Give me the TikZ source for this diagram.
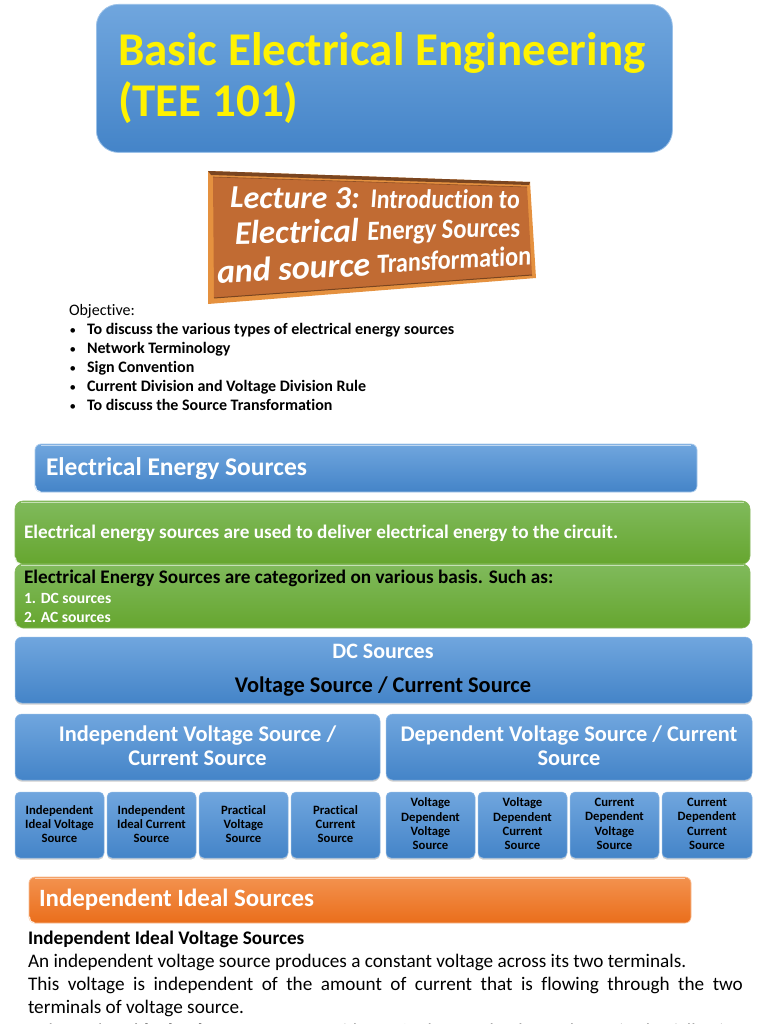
\documentclass[tikz,border=0pt]{standalone}
\usepackage{fontspec}
\setmainfont{Carlito}[Ligatures={NoCommon}]
\newfontfamily\slightfont{Carlito}[Ligatures={NoCommon},FakeSlant=0.07,FakeStretch=0.88,BoldFeatures={FakeSlant=0.07,FakeStretch=0.88}]
\tikzset{
  x=1pt,y=-1pt,
  card/.style={rounded corners=#1,inner sep=0pt,outer sep=0pt,anchor=north west,text=white,align=center,
    preaction={fill=black!55,opacity=.35,transform canvas={yshift=-1.6pt}}},
  card/.default=6pt,
  bluecard/.style={card=#1,top color=BlueTop,bottom color=BlueBot,draw=BlueTop!80!white,line width=.5pt},
  bluecard/.default=6pt,
  greencard/.style={rounded corners=8pt,anchor=north west,inner sep=0pt,outer sep=0pt,top color=GreenTop,bottom color=GreenBot,draw=GreenBot!80!white,line width=.6pt},
  barblue/.style={rounded corners=6pt,anchor=north west,inner sep=0pt,outer sep=0pt,top color=BlueTop,bottom color=BlueBot,draw=BlueTop!60!white,line width=.7pt},
  barorange/.style={rounded corners=6pt,anchor=north west,inner sep=0pt,outer sep=0pt,top color=OrTop,bottom color=OrBot,draw=OrTop!60!white,line width=.7pt},
  lbl/.style={anchor=base west,inner sep=0pt,outer sep=0pt},
  ctr/.style={anchor=base,inner sep=0pt,outer sep=0pt},
  boxtext/.style={anchor=center,inner sep=0pt,outer sep=0pt,align=center},
  lect/.style={anchor=base west,inner sep=0pt,outer sep=0pt,text=white,font=\bfseries},
}
\definecolor{BlueTop}{HTML}{70A6DE}
\definecolor{BlueBot}{HTML}{4484C8}
\definecolor{GreenTop}{HTML}{80BA5C}
\definecolor{GreenBot}{HTML}{66A62F}
\definecolor{OrTop}{HTML}{F3924F}
\definecolor{OrBot}{HTML}{EA6E1B}
\definecolor{Rust}{HTML}{C16B33}
\definecolor{RustEdge}{HTML}{E5913F}
\definecolor{RustDark}{HTML}{7A4520}
\newcommand{\fs}[1]{\fontsize{#1}{#1}\selectfont}
\newcommand{\smallbox}[4]{\node[bluecard=5pt,minimum width=#2pt,minimum height=66pt] (#1) at (#3,792) {};
  \node[boxtext,text=black,font=\bfseries\fontsize{12.7}{14.3}\selectfont] (#1t) at ([yshift=1pt]#1.center) {#4};}
\newcommand{\barshine}[2]{%
  \draw[#2!45!white,line width=1.3pt] ([xshift=6pt,yshift=-1.2pt]#1.north west) -- ([xshift=-6pt,yshift=-1.2pt]#1.north east);
  \draw[white!85!#2,line width=1.1pt,line cap=round] ([xshift=.6pt,yshift=6pt]#1.south west) .. controls ([xshift=1.2pt,yshift=1.6pt]#1.south west) .. ([xshift=5pt,yshift=.5pt]#1.south west);
}
\begin{document}
\begin{tikzpicture}
\useasboundingbox (0,0) rectangle (768,1024);
\clip (0,0) rectangle (768,1024);
\fill[white] (0,0) rectangle (768,1024);

% title
\node[rounded corners=22pt,anchor=north west,inner sep=0pt,top color=BlueTop,bottom color=BlueBot,draw=BlueTop!70!white,line width=.8pt,minimum width=576pt,minimum height=148pt] (title) at (96,4) {};
\node[lbl,text=yellow,font=\bfseries\fs{47}] (t1) at (118,66) {Basic Electrical Engineering};
\node[lbl,text=yellow,font=\bfseries\fs{47}] (t2) at (118,117) {(TEE 101)};

% lecture banner
\fill[RustEdge] (208,171) -- (530,182) -- (536,278) -- (208,304) -- cycle;
\fill[RustDark] (208,171) -- (530,182) -- (529,185) -- (211,175) -- cycle;
\fill[Rust] (213,177) -- (527,187) -- (532,275) -- (214,298);
\draw[RustDark,line width=1pt] (214,298) -- (532,275);
\draw[RustDark!70!Rust,line width=.6pt] (213,177) -- (527,187);
\node[lect,rotate=-.3,font=\bfseries\itshape\fs{32}] (l1a) at (230,208) {Lecture 3:};
\node[lect,rotate=-.3,font=\bfseries\slightfont\fs{27}] (l1b) at (370,208) {Introduction to};
\node[lect,rotate=1,font=\bfseries\itshape\fs{33}] (l2a) at (235,244) {Electrical};
\node[lect,rotate=1.2,font=\bfseries\slightfont\fs{27.8}] (l2b) at (367,240) {Energy Sources};
\node[lect,rotate=2.7,font=\bfseries\itshape\fs{34}] (l3a) at (217.5,283) {and source};
\node[lect,rotate=3,font=\bfseries\slightfont\fs{27.6}] (l3b) at (377,273) {Transformation};

% objectives
\node[lbl,font=\fs{16}] (obj) at (69,315) {Objective:};
\foreach \n/\y/\t in {a/334.5/To discuss the various types of electrical energy sources,
                      b/353.5/Network Terminology,
                      c/372.5/Sign Convention,
                      d/391.5/Current Division and Voltage Division Rule,
                      e/410.5/To discuss the Source Transformation}{
  \node[lbl,font=\fs{13}] (bul\n) at (69.5,\y-.5) {•};
  \node[lbl,font=\bfseries\fs{16}] (obj\n) at (87,\y) {\t};
}

% electrical energy sources bar
\node[barblue,minimum width=662pt,minimum height=48pt] (ees) at (35,444) {};
\barshine{ees}{BlueTop}
\node[lbl,text=white,font=\bfseries\fs{25.5}] (eest) at (46,475) {Electrical Energy Sources};

% green boxes
\node[greencard,minimum width=735pt,minimum height=63pt] (g1) at (15,501) {};
\barshine{g1}{GreenTop}
\node[lbl,text=white,font=\bfseries\fs{19.2}] (g1t) at (24,538.5) {Electrical energy sources are used to deliver electrical energy to the circuit.};
\node[greencard,minimum width=735pt,minimum height=64pt] (g2) at (15,564) {};
\barshine{g2}{GreenTop}
\node[lbl,text=black,font=\bfseries\fs{19.2}] (g2t) at (24,583.5) {Electrical Energy Sources are categorized on various basis. Such as:};
\node[lbl,text=white,font=\bfseries\fs{15.6}] (g2a) at (24,603.5) {1. DC sources};
\node[lbl,text=white,font=\bfseries\fs{15.6}] (g2b) at (24,622.5) {2. AC sources};

% DC sources
\node[bluecard=7pt,minimum width=737pt,minimum height=66pt] (dc) at (15,637) {};
\node[ctr,text=white,font=\bfseries\fs{22}] (dct) at (383,658) {DC Sources};
\node[ctr,text=black,font=\bfseries\fs{22.4}] (dcv) at (383,692.5) {Voltage Source / Current Source};

% two middle boxes
\node[bluecard=7pt,minimum width=365pt,minimum height=66pt] (ind) at (15,714) {};
\node[boxtext,text=white,font=\bfseries\fontsize{22.4}{24}\selectfont] (indt) at ([yshift=1.5pt]ind.center) {Independent Voltage Source /\\Current Source};
\node[bluecard=7pt,minimum width=366pt,minimum height=66pt] (dep) at (386,714) {};
\node[boxtext,text=white,font=\bfseries\fontsize{22.4}{24}\selectfont] (dept) at ([yshift=1.5pt]dep.center) {Dependent Voltage Source / Current\\Source};

% small boxes
\smallbox{s1}{89}{15}{Independent\\Ideal Voltage\\Source}
\smallbox{s2}{89}{107}{Independent\\Ideal Current\\Source}
\smallbox{s3}{89}{199}{Practical\\Voltage\\Source}
\smallbox{s4}{89}{291}{Practical\\Current\\Source}
\smallbox{s5}{89}{386}{Voltage\\Dependent\\Voltage\\Source}
\smallbox{s6}{89}{478}{Voltage\\Dependent\\Current\\Source}
\smallbox{s7}{89}{570}{Current\\Dependent\\Voltage\\Source}
\smallbox{s8}{90}{662}{Current\\Dependent\\Current\\Source}

% orange bar
\node[barorange,minimum width=662pt,minimum height=46pt] (iis) at (29,877) {};
\barshine{iis}{OrTop}
\node[lbl,text=white,font=\bfseries\fs{24.9}] (iist) at (39,906.5) {Independent Ideal Sources};

% body text
\node[lbl,font=\bfseries\fs{19.2}] (b0) at (28,944.5) {Independent Ideal Voltage Sources};
\node[lbl,font=\fs{19.2}] (b1) at (28,967.5) {An independent voltage source produces a constant voltage across its two terminals.};
\node[lbl,font=\fs{19.2}] (b2) at (28,990.5) {\makebox[715pt][s]{This voltage is independent of the amount of current that is flowing through the two}};
\node[lbl,font=\fs{19.2}] (b3) at (28,1013.5) {terminals of voltage source.};
\node[lbl,font=\fs{19.2}] (b4) at (28,1037) {\makebox[715pt][s]{Independent \textbf{ideal voltage} sources provide 100\% the rated voltage shown in the following}};
\end{tikzpicture}
\end{document}
